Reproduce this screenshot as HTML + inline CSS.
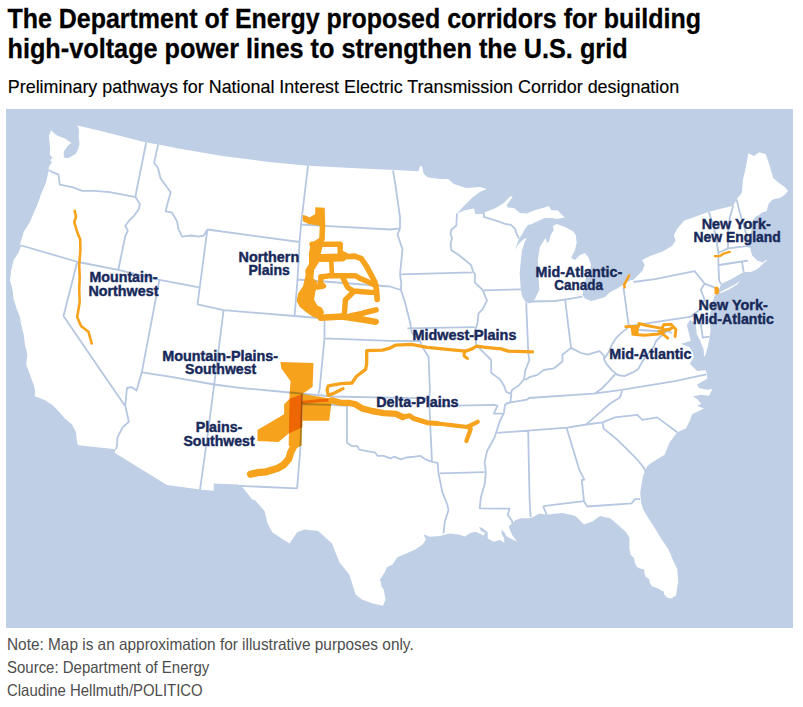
<!DOCTYPE html>
<html><head><meta charset="utf-8"><style>
html,body{margin:0;padding:0;background:#fff;width:803px;height:707px;overflow:hidden}
svg{display:block;font-family:"Liberation Sans",sans-serif}
</style></head><body>
<svg width="803" height="707" viewBox="0 0 803 707">
<rect width="803" height="707" fill="#fff"/>
<rect x="6" y="109" width="787" height="519" fill="#bfcfe5"/>
<clipPath id="mc"><rect x="6" y="109" width="787" height="519"/></clipPath>
<g clip-path="url(#mc)">
<path d="M51.0,130.3 L56.1,135.0 L65.5,138.8 L71.4,143.0 L68.0,145.6 L63.8,151.5 L63.8,157.4 L68.0,158.3 L75.7,154.0 L78.2,149.0 L79.5,143.9 L78.6,137.0 L79.0,129.4 L77.3,125.6 L100.0,130.7 L146.2,142.5 L158.0,144.6 L177.2,148.3 L220.8,155.7 L264.4,161.4 L308.0,165.8 L351.6,168.0 L395.2,170.1 L418.6,171.3 L419.9,166.0 L422.0,166.5 L423.6,173.5 L427.4,177.2 L440.0,179.0 L448.0,179.0 L454.0,184.0 L466.0,188.0 L480.0,187.0 L486.8,189.0 L479.8,192.0 L471.9,197.9 L463.9,205.9 L457.0,213.5 L464.0,210.6 L474.0,208.5 L475.4,214.1 L482.4,214.1 L483.8,212.8 L495.8,207.9 L503.8,202.9 L510.7,195.9 L512.7,196.9 L506.7,204.9 L508.0,207.5 L514.0,208.0 L520.0,213.0 L527.0,213.4 L535.0,210.0 L543.0,208.0 L549.0,206.0 L551.0,210.0 L558.0,210.4 L561.0,214.0 L564.8,217.4 L556.8,218.9 L551.8,217.9 L544.8,217.9 L535.9,221.9 L531.9,223.9 L527.9,224.9 L524.9,228.9 L521.9,234.8 L519.0,238.8 L515.0,249.8 L518.0,244.8 L522.9,239.8 L526.9,237.8 L524.9,241.8 L521.9,250.8 L520.9,259.7 L519.7,273.6 L520.8,289.5 L522.0,296.0 L525.7,302.3 L529.5,303.5 L534.5,299.8 L539.4,289.8 L538.2,272.4 L537.9,259.7 L539.9,246.8 L545.8,237.8 L546.8,242.8 L548.8,241.8 L550.8,234.8 L553.8,229.9 L552.8,225.9 L556.8,223.9 L564.8,226.9 L572.7,230.9 L575.7,234.8 L576.7,242.8 L574.7,250.8 L572.4,254.9 L571.2,258.0 L574.9,259.9 L579.9,254.9 L584.9,253.0 L588.6,257.4 L591.1,264.9 L589.9,271.1 L586.1,277.3 L584.9,282.3 L583.6,288.5 L582.4,294.8 L584.9,298.5 L591.1,301.0 L596.1,299.7 L604.8,297.2 L609.8,292.3 L617.3,288.5 L622.9,284.8 L629.7,280.4 L633.5,279.8 L642.2,271.1 L644.7,264.9 L642.2,259.9 L649.6,256.2 L655.0,254.3 L663.5,251.0 L672.2,245.8 L675.7,240.6 L673.9,235.3 L677.4,228.4 L684.4,220.5 L696.6,216.2 L708.8,211.8 L733.2,205.7 L736.7,199.6 L737.3,198.3 L741.9,192.8 L742.9,179.9 L744.7,172.6 L748.4,153.3 L753.9,156.0 L759.4,152.3 L765.8,154.2 L769.5,165.2 L773.2,178.1 L779.6,183.6 L785.1,187.2 L787.9,190.9 L785.1,194.6 L779.6,198.3 L776.0,198.5 L772.2,200.1 L768.6,203.8 L766.7,211.1 L762.0,212.5 L759.4,214.8 L755.7,216.6 L752.0,222.1 L751.1,231.3 L750.2,240.5 L749.3,245.1 L750.2,247.9 L752.0,255.2 L757.6,260.7 L763.1,262.6 L765.8,259.8 L766.8,260.5 L759.4,267.2 L755.7,270.0 L750.6,271.9 L743.7,271.9 L731.5,278.9 L721.0,284.1 L719.2,289.4 L717.0,291.0 L714.2,297.0 L711.5,305.0 L710.0,314.0 L708.5,320.0 L705.0,318.5 L709.6,322.9 L710.6,329.8 L709.6,337.7 L707.6,347.6 L705.6,354.5 L704.0,357.0 L703.7,349.6 L701.7,344.7 L699.7,339.7 L696.7,333.8 L695.7,322.9 L690.0,320.0 L686.8,324.9 L688.8,332.8 L690.8,340.7 L684.9,342.7 L680.9,343.7 L689.8,347.6 L692.8,352.6 L693.8,357.5 L689.8,363.5 L692.0,366.0 L697.1,371.0 L705.6,370.2 L706.8,373.6 L707.3,378.7 L697.1,384.6 L698.8,388.0 L707.3,389.7 L712.4,388.9 L709.0,395.7 L700.5,394.8 L692.8,396.5 L697.1,399.0 L701.3,404.1 L697.1,405.8 L703.9,408.4 L692.0,414.3 L690.3,419.4 L685.9,428.6 L677.2,432.3 L669.7,442.3 L664.7,454.7 L652.3,462.2 L647.3,465.9 L643.5,474.6 L642.3,480.0 L640.2,492.7 L641.2,503.3 L643.4,509.7 L647.6,517.1 L654.0,526.7 L660.3,537.3 L668.8,550.0 L673.1,560.6 L677.3,569.1 L678.2,581.9 L676.8,589.7 L676.1,595.4 L671.1,598.5 L666.9,597.5 L664.0,594.0 L664.0,591.8 L661.2,590.4 L657.7,588.3 L652.0,586.2 L649.9,583.3 L649.2,579.1 L645.7,577.0 L644.2,572.0 L644.2,569.2 L640.0,568.5 L637.0,567.0 L635.1,563.5 L634.0,557.9 L630.5,554.5 L629.4,548.8 L629.4,537.5 L626.0,531.9 L617.0,524.0 L610.2,518.3 L600.0,516.0 L592.4,521.4 L584.0,524.6 L575.5,516.1 L562.7,512.9 L556.8,513.6 L546.8,514.8 L539.4,513.6 L531.3,517.9 L526.0,518.3 L520.8,518.3 L515.6,520.1 L512.1,523.5 L508.6,526.2 L509.5,528.8 L512.1,534.9 L517.3,541.8 L512.1,539.2 L506.8,536.6 L504.2,532.3 L501.6,529.6 L501.6,534.0 L504.2,538.4 L504.2,542.7 L499.9,540.1 L493.8,541.8 L487.7,538.4 L487.7,532.3 L482.4,527.9 L479.0,527.0 L481.0,531.0 L485.0,533.1 L483.3,535.7 L480.7,534.0 L475.5,531.8 L470.2,533.1 L465.0,536.6 L459.7,534.8 L449.7,533.5 L439.7,536.0 L429.8,536.8 L423.5,534.3 L426.0,539.7 L422.3,544.7 L414.8,549.7 L406.1,553.4 L397.4,557.2 L392.4,564.6 L386.8,567.2 L385.0,572.1 L380.0,579.6 L381.8,587.1 L383.7,589.6 L385.5,599.6 L383.0,605.8 L371.8,603.3 L361.9,599.6 L355.6,594.6 L349.4,574.7 L339.4,562.2 L332.0,543.5 L318.3,531.1 L304.6,529.4 L297.1,532.3 L289.6,543.5 L279.7,537.3 L272.2,532.3 L267.2,522.4 L264.7,511.2 L254.8,500.0 L252.3,499.6 L242.3,487.1 L238.6,484.6 L213.7,483.4 L213.7,490.8 L200.0,489.6 L166.9,485.1 L114.6,452.7 L115.8,449.2 L78.5,445.3 L77.2,443.5 L76.0,432.3 L72.2,424.8 L64.8,418.6 L59.8,412.4 L52.3,404.9 L44.8,400.0 L34.9,396.2 L34.9,389.4 L33.6,384.5 L29.9,374.5 L26.2,364.5 L27.4,354.6 L24.9,344.6 L23.7,334.6 L21.2,324.7 L19.9,317.2 L16.2,307.2 L13.7,299.8 L12.5,289.8 L10.0,279.9 L11.2,269.9 L13.7,259.9 L18.7,252.5 L21.2,245.5 L20.0,244.5 L23.7,232.0 L29.9,222.0 L37.4,204.6 L41.0,194.6 L46.0,182.2 L48.6,171.0 L52.7,171.0 L48.5,169.3 L49.3,166.0 L51.9,162.5 L50.2,160.0 L52.7,157.4 L49.8,155.0 L50.2,149.0 L48.9,136.2 Z" fill="#fff"/>
<path d="M719.5,292.5 L726.0,289.0 L734.0,285.0 L740.5,280.5 L737.0,284.5 L729.0,289.5 L721.0,293.0 Z" fill="#fff"/>
<path d="M49.8,171.0 L58.5,174.7 L59.8,184.7 L72.2,187.2 L82.2,190.9 L94.6,190.9 L109.6,192.2 L135.7,197.1 M146.2,142.5 L135.7,194.6 L135.7,197.1 M135.5,197.1 L139.9,204.1 L138.7,209.2 L134.2,215.6 L129.1,220.7 L125.3,225.8 L127.8,230.9 L125.3,236.0 L118.3,269.7 M21.2,245.5 L78.0,262.0 L118.3,269.9 L159.4,279.9 L199.3,287.3 M158.0,144.6 L154.2,162.9 L158.0,168.0 L160.5,178.2 L170.7,192.2 L168.2,201.1 L165.6,211.3 L172.0,212.6 L177.1,221.5 L178.4,229.1 L182.2,236.7 L191.1,235.5 L198.7,236.7 L203.8,235.5 L207.4,229.5 M207.4,229.5 L197.5,304.3 L223.6,310.2 L294.6,316.0 M207.4,229.5 L299.6,242.0 M308.0,165.8 L301.0,224.5 L299.6,242.0 L297.5,279.5 L294.6,316.0 M301.0,224.5 L324.5,225.8 L390.0,229.5 L400.0,228.3 M393.0,170.5 L395.0,182.2 L397.5,199.6 L400.0,217.0 L400.0,228.3 L397.5,234.5 L402.5,249.4 L400.0,274.4 M297.5,279.5 L383.0,286.0 L390.0,286.5 L396.0,288.5 L401.0,290.0 M400.0,274.4 L401.2,282.3 L401.0,290.0 L405.0,302.3 L410.0,322.2 L412.0,333.0 L419.9,341.0 L422.4,347.0 L428.6,357.0 L429.9,390.0 L429.2,398.4 L430.1,421.7 L432.0,461.9 M294.6,316.0 L324.5,318.5 L324.5,338.4 L319.5,390.0 L318.3,393.7 M324.5,338.4 L390.0,340.9 L419.9,341.0 M159.4,279.9 L199.3,287.3 M223.6,310.2 L214.2,384.5 L206.3,445.0 L200.0,489.6 M159.4,279.9 L141.8,372.3 M77.2,262.0 L63.5,316.0 L100.0,369.6 L125.3,406.2 M141.8,372.3 L136.6,390.6 L131.4,387.1 L127.0,388.0 L126.2,395.8 L125.3,406.2 L127.0,413.2 L128.8,421.9 L122.7,427.2 L117.4,437.6 L117.0,446.0 L115.8,449.2 M141.8,372.3 L169.7,376.6 L214.2,384.5 L240.0,387.9 L289.6,392.5 L302.1,393.7 L333.0,396.5 L375.9,397.4 L428.2,398.4 M302.1,393.7 L300.3,449.7 L297.1,488.3 L239.8,485.9 M302.1,404.0 L331.1,404.9 L347.0,405.8 L347.0,442.7 L352.2,446.2 L357.4,446.2 L359.2,449.7 L367.9,451.4 L374.9,452.3 L377.5,455.8 L383.6,455.8 L390.6,458.4 L394.0,456.7 L401.0,459.3 L406.2,457.5 L415.0,456.7 L420.2,455.8 L425.4,459.3 L432.4,461.9 L437.6,462.8 L438.5,473.2 L442.3,492.1 L447.3,504.5 L448.5,509.9 L444.7,522.3 L443.5,533.5 M439.8,473.4 L484.6,472.2 M457.0,213.5 L456.3,225.5 L451.3,229.7 L450.6,233.9 L452.0,238.2 L450.6,243.8 L451.3,250.2 L457.0,253.7 L462.6,258.0 L471.1,265.1 L473.2,272.1 L474.9,273.6 M400.0,274.4 L472.2,272.4 M474.9,273.6 L474.7,282.3 L482.7,290.0 L487.0,300.6 L482.7,309.1 L478.5,313.3 L477.4,323.9 L474.2,332.4 L476.4,345.2 L484.8,353.6 L491.2,360.0 L491.2,372.7 L499.7,379.1 L503.9,385.5 L506.1,391.8 L511.4,394.0 L510.3,402.4 L505.0,404.6 L503.9,413.0 L499.7,421.5 L497.0,430.0 L494.6,437.3 L487.1,451.0 L484.6,462.2 L485.9,472.2 L484.6,484.6 L480.9,497.0 L479.7,508.3 L509.5,508.7 L507.7,514.8 L512.1,520.9 L512.5,523.5 M407.4,328.4 L474.7,327.2 M482.7,290.3 L520.8,289.3 M483.8,212.8 L483.8,216.8 L499.8,221.8 L505.0,223.9 L511.0,224.9 L515.0,228.9 L517.0,234.8 L519.0,238.3 M526.2,302.7 L528.3,353.6 L529.4,360.0 L525.2,370.6 L524.1,379.1 L518.8,385.5 L512.4,389.7 L510.3,394.0 M529.5,301.5 L555.0,301.0 L565.0,299.7 L582.4,296.6 M565.0,298.7 L571.0,347.9 M525.1,380.0 L530.2,376.8 L537.0,375.1 L543.8,370.0 L554.0,368.3 L562.4,361.5 L562.4,354.7 L571.0,347.9 L581.1,353.0 L587.9,354.7 L595.0,352.3 L599.5,351.2 L604.0,355.7 L604.0,359.1 M628.9,325.2 L626.7,328.6 L621.0,333.1 L616.5,337.6 L612.0,344.4 L608.6,352.3 L604.0,359.1 L606.3,363.6 L612.0,370.4 L617.6,375.0 L624.4,376.1 L632.3,372.7 L638.0,369.3 L642.5,361.4 L648.2,353.5 L653.8,346.7 L656.1,341.0 L660.6,336.5 L667.0,331.0 L672.0,333.0 M628.9,325.2 L640.0,330.0 L655.0,331.0 L667.0,331.0 M615.4,373.8 L608.6,381.7 L601.8,388.5 L595.0,393.5 M431.1,406.2 L494.6,404.9 L497.4,405.8 L493.9,413.7 L502.7,413.7 M506.2,403.2 L527.1,399.7 L528.8,398.0 L593.3,393.6 L620.0,390.1 L675.0,381.2 L706.4,374.4 M622.4,390.0 L619.9,397.4 L609.9,403.7 L600.0,412.4 L590.0,421.1 L586.3,424.1 M497.4,432.9 L567.2,427.6 L586.3,424.5 L602.5,422.3 M602.5,422.3 L614.9,417.4 L637.3,414.9 L642.3,419.9 L657.2,417.4 L677.2,432.3 M602.5,422.3 L603.7,428.6 L617.4,439.8 L627.4,449.7 L637.3,459.7 L643.5,467.2 L646.0,472.2 M528.2,431.1 L529.5,497.0 L530.6,517.3 M566.8,428.6 L579.3,469.7 L584.3,479.6 L581.8,480.0 L584.0,501.2 L587.1,506.5 L631.7,503.3 L634.9,499.1 L640.2,499.1 M543.1,506.1 L584.0,501.2 M543.1,506.1 L546.8,515.0 M623.5,287.3 L627.2,315.0 L628.8,326.2 M633.5,282.0 L655.0,279.2 L694.6,271.1 L699.6,277.4 L704.6,283.6 M704.6,283.6 L700.8,289.8 L704.6,299.8 L699.6,309.7 L689.6,317.2 M628.8,326.2 L691.5,316.6 M692.3,315.7 L697.0,318.5 L700.7,322.9 L702.7,337.7 L709.6,336.7 M708.8,211.8 L713.1,224.9 L715.8,235.3 L717.5,247.5 L718.4,252.8 L718.4,265.0 L719.2,280.7 L721.0,284.1 M704.6,283.6 L719.2,289.4 M733.2,205.7 L729.7,217.9 L728.0,233.6 L728.0,248.4 M736.7,199.6 L739.3,210.9 L743.7,224.9 L747.1,237.1 L749.8,247.5 M718.4,252.8 L728.0,248.4 L748.9,245.8 M719.2,265.0 L741.9,261.5 L748.0,260.6 M741.9,261.5 L743.7,271.9" fill="none" stroke="#b5c7e1" stroke-width="1.8" stroke-linejoin="round"/>
<g><path d="M74.7,210.8 L76.0,217.0 L74.2,222.0 L77.2,232.0 L80.2,239.5 L80.4,250.0 L79.2,265.0 L79.7,277.0 L79.2,290.0 L79.7,302.0 L77.2,317.0 L81.0,326.0 L88.4,331.7 L91.7,343.4" fill="none" stroke="#f7a21c" stroke-width="2.6" stroke-linejoin="round" stroke-linecap="round"/></g>
<g><path d="M315.2,207.3 L324.7,207.8 L325.3,225.8 L324.7,240.4 L319.1,240.4 L319.7,225.8 L308.5,224.1 L302.8,221.3 L302.8,215.1 L306.2,215.7 L309.6,217.4 L315.2,214.0 Z" fill="#f7a21c"/><path d="M319.1,238.0 L324.7,238.0 L322.6,246.2 L320.1,256.4 L318.4,263.2 L314.1,270.0 L313.3,278.4 L317.5,281.8 L317.5,287.0 L315.2,292.0 L314.1,299.8 L317.4,305.4 L321.9,307.7 L324.1,312.2 L321.0,319.5 L312.9,316.7 L306.2,312.2 L299.5,306.6 L296.7,301.0 L298.0,293.7 L303.1,286.0 L305.6,275.0 L305.2,270.0 L309.0,264.0 L309.0,253.0 L310.7,243.6 Z" fill="#f7a21c"/><path d="M312.0,244.2 L340.2,244.2 L340.2,252.7 L345.5,255.0" fill="none" stroke="#f7a21c" stroke-width="5.4" stroke-linejoin="round" stroke-linecap="round"/><path d="M318.0,258.5 L330.0,258.7 L342.7,257.0 L354.6,256.1 L361.4,258.7 L366.5,266.3 L370.7,274.0 L375.0,282.4 L376.7,291.0 L377.1,299.4" fill="none" stroke="#f7a21c" stroke-width="5.6" stroke-linejoin="round" stroke-linecap="round"/><path d="M320.0,258.0 L342.0,257.5" fill="none" stroke="#f7a21c" stroke-width="8" stroke-linejoin="round" stroke-linecap="round"/><path d="M331.1,258.0 L332.0,275.0" fill="none" stroke="#f7a21c" stroke-width="4.6" stroke-linejoin="round" stroke-linecap="round"/><path d="M321.0,277.0 L330.0,275.7 L341.9,275.7 L355.5,275.7 L359.7,278.2 L365.7,280.7 L372.4,284.1 L376.0,285.5" fill="none" stroke="#f7a21c" stroke-width="5.4" stroke-linejoin="round" stroke-linecap="round"/><path d="M321.0,277.0 L320.5,283.5 L323.5,286.0 L317.5,287.0" fill="none" stroke="#f7a21c" stroke-width="5.4" stroke-linejoin="round" stroke-linecap="round"/><path d="M343.2,278.5 L347.7,287.5 L353.3,291.0 L369.0,292.2 L376.0,292.4" fill="none" stroke="#f7a21c" stroke-width="5.4" stroke-linejoin="round" stroke-linecap="round"/><path d="M353.3,292.0 L345.4,299.8 L344.3,315.5" fill="none" stroke="#f7a21c" stroke-width="5.4" stroke-linejoin="round" stroke-linecap="round"/><path d="M320.8,317.8 L342.1,316.5 L362.3,319.5 L375.7,321.8" fill="none" stroke="#f7a21c" stroke-width="6.4" stroke-linejoin="round" stroke-linecap="round"/><path d="M350.0,316.0 L362.0,313.5 L368.0,311.8 L376.0,309.9" fill="none" stroke="#f7a21c" stroke-width="5.6" stroke-linejoin="round" stroke-linecap="round"/></g>
<g style="mix-blend-mode:multiply"><path d="M280.4,362.0 L313.5,362.9 L312.6,386.8 L302.5,394.1 L301.6,445.6 L295.0,449.0 L288.7,445.6 L289.6,393.2 L290.6,381.3 L281.4,368.4 Z" fill="#f7a21c"/><path d="M295.0,444.0 L290.6,452.7 L288.8,458.8 L283.6,464.9 L277.5,468.4 L266.2,471.8 L257.4,472.7 L250.5,474.3" fill="none" stroke="#f7a21c" stroke-width="7.2" stroke-linejoin="round" stroke-linecap="round"/></g>
<g style="mix-blend-mode:multiply"><path d="M257.5,430.0 L284.1,414.3 L284.1,404.2 L289.6,398.7 L302.5,394.1 L302.5,427.2 L288.7,433.6 L278.6,441.9 L257.5,441.0 Z" fill="#f7a21c"/></g>
<g style="mix-blend-mode:multiply"><path d="M302.5,394.1 L331.9,398.7 L329.2,420.8 L302.5,420.8 Z" fill="#f7a21c"/></g>
<g style="mix-blend-mode:multiply"><path d="M303.4,402.2 L320.4,400.5 L330.5,400.2" fill="none" stroke="#f7a21c" stroke-width="3.0" stroke-linejoin="round" stroke-linecap="round"/></g>
<g><path d="M331.5,400.4 L340.0,402.6 L349.8,403.0 L355.7,404.4 L362.7,408.7 L372.0,411.0 L383.6,413.1 L395.8,413.9 L402.8,417.0" fill="none" stroke="#f7a21c" stroke-width="6.4" stroke-linejoin="round" stroke-linecap="round"/><path d="M402.8,417.0 L409.7,415.7 L413.2,418.3 L427.2,422.7 L437.6,423.5" fill="none" stroke="#f7a21c" stroke-width="5.0" stroke-linejoin="round" stroke-linecap="round"/><path d="M437.6,423.5 L453.3,425.3 L467.3,427.0 L477.7,421.8" fill="none" stroke="#f7a21c" stroke-width="4.2" stroke-linejoin="round" stroke-linecap="round"/><path d="M467.3,427.0 L470.8,428.8 L466.4,441.0" fill="none" stroke="#f7a21c" stroke-width="4.2" stroke-linejoin="round" stroke-linecap="round"/></g>
<g><path d="M343.0,388.6 L333.9,393.2 L328.3,395.4 L327.1,389.8 L328.3,385.8 L340.7,383.6 L352.0,383.0 L356.6,376.2 L365.6,369.4 L366.7,363.8 L366.7,350.7 L382.4,350.2 L389.1,348.4 L395.9,345.1 L411.6,344.4 L420.5,346.2 L427.2,347.3 L449.7,349.6 L465.4,351.1 L472.1,348.9 L476.6,346.2 L485.5,347.3 L501.2,348.9 L508.0,351.1 L532.6,351.8" fill="none" stroke="#f7a21c" stroke-width="3.3" stroke-linejoin="round" stroke-linecap="round"/><path d="M464.2,351.8 L464.2,356.3 L467.6,358.5" fill="none" stroke="#f7a21c" stroke-width="3.0" stroke-linejoin="round" stroke-linecap="round"/></g>
<g><path d="M629.1,275.5 L624.1,284.8 L624.7,287.3" fill="none" stroke="#f7a21c" stroke-width="2.6" stroke-linejoin="round" stroke-linecap="round"/></g>
<g><path d="M714.9,256.2 L720.1,255.9 L723.6,253.6 L729.7,251.9" fill="none" stroke="#f7a21c" stroke-width="2.4" stroke-linejoin="round" stroke-linecap="round"/></g>
<g><path d="M714.2,287.2 L717.8,286.4 L719.2,290.0 L718.8,293.4 L716.8,294.6 L714.3,293.4 L714.6,290.5 Z" fill="#f7a21c"/></g>
<g><path d="M625.7,326.7 L638.6,326.3 L639.0,323.5 L646.7,325.5 L654.8,327.1 L662.1,328.4 L663.7,324.7 L671.0,324.3 L675.9,329.6 L675.1,336.5" fill="none" stroke="#f7a21c" stroke-width="2.9" stroke-linejoin="round" stroke-linecap="round"/><path d="M632.1,327.1 L633.0,334.4 L644.3,335.2 L658.9,334.0 L665.3,330.4 L671.8,328.0" fill="none" stroke="#f7a21c" stroke-width="2.9" stroke-linejoin="round" stroke-linecap="round"/><path d="M658.9,331.2 L667.8,338.1" fill="none" stroke="#f7a21c" stroke-width="2.9" stroke-linejoin="round" stroke-linecap="round"/><path d="M662.0,329.6 L670.2,329.6" fill="none" stroke="#f7a21c" stroke-width="2.9" stroke-linejoin="round" stroke-linecap="round"/><path d="M631.0,326.0 L639.0,325.0 L638.5,334.5 L632.0,334.5 Z" fill="#f7a21c"/></g>
</g>
<text stroke="#17295a" stroke-width="0.45" x="89.5" y="282.0" textLength="67.9" lengthAdjust="spacingAndGlyphs" font-size="15.3" font-weight="bold" fill="#17295a">Mountain-</text>
<text stroke="#17295a" stroke-width="0.45" x="88.4" y="296.0" textLength="70.1" lengthAdjust="spacingAndGlyphs" font-size="15.3" font-weight="bold" fill="#17295a">Northwest</text>
<text stroke="#17295a" stroke-width="0.45" x="238.5" y="261.79999999999995" textLength="60.7" lengthAdjust="spacingAndGlyphs" font-size="15.3" font-weight="bold" fill="#17295a">Northern</text>
<text stroke="#17295a" stroke-width="0.45" x="248.4" y="275.29999999999995" textLength="41.4" lengthAdjust="spacingAndGlyphs" font-size="15.3" font-weight="bold" fill="#17295a">Plains</text>
<text stroke="#17295a" stroke-width="0.45" x="162.3" y="361.2" textLength="115.7" lengthAdjust="spacingAndGlyphs" font-size="15.3" font-weight="bold" fill="#17295a">Mountain-Plains-</text>
<text stroke="#17295a" stroke-width="0.45" x="185" y="374.2" textLength="71.2" lengthAdjust="spacingAndGlyphs" font-size="15.3" font-weight="bold" fill="#17295a">Southwest</text>
<text stroke="#17295a" stroke-width="0.45" x="195.7" y="432.0" textLength="46.6" lengthAdjust="spacingAndGlyphs" font-size="15.3" font-weight="bold" fill="#17295a">Plains-</text>
<text stroke="#17295a" stroke-width="0.45" x="183.4" y="446.0" textLength="71.2" lengthAdjust="spacingAndGlyphs" font-size="15.3" font-weight="bold" fill="#17295a">Southwest</text>
<text stroke="#17295a" stroke-width="0.45" x="412.5" y="339.79999999999995" textLength="103.9" lengthAdjust="spacingAndGlyphs" font-size="15.3" font-weight="bold" fill="#17295a">Midwest-Plains</text>
<text stroke="#17295a" stroke-width="0.45" x="376.2" y="406.59999999999997" textLength="82.2" lengthAdjust="spacingAndGlyphs" font-size="15.3" font-weight="bold" fill="#17295a">Delta-Plains</text>
<text stroke="#17295a" stroke-width="0.45" x="535.6" y="276.59999999999997" textLength="86.6" lengthAdjust="spacingAndGlyphs" font-size="15.3" font-weight="bold" fill="#17295a">Mid-Atlantic-</text>
<text stroke="#17295a" stroke-width="0.45" x="554.3" y="290.29999999999995" textLength="48.6" lengthAdjust="spacingAndGlyphs" font-size="15.3" font-weight="bold" fill="#17295a">Canada</text>
<text stroke="#17295a" stroke-width="0.45" x="701.7" y="228.6" textLength="69.1" lengthAdjust="spacingAndGlyphs" font-size="15.3" font-weight="bold" fill="#17295a">New York-</text>
<text stroke="#17295a" stroke-width="0.45" x="693.6" y="241.70000000000002" textLength="87.2" lengthAdjust="spacingAndGlyphs" font-size="15.3" font-weight="bold" fill="#17295a">New England</text>
<text stroke="#17295a" stroke-width="0.45" x="698.6" y="310.0" textLength="69.1" lengthAdjust="spacingAndGlyphs" font-size="15.3" font-weight="bold" fill="#17295a">New York-</text>
<text stroke="#17295a" stroke-width="0.45" x="693" y="323.7" textLength="80.9" lengthAdjust="spacingAndGlyphs" font-size="15.3" font-weight="bold" fill="#17295a">Mid-Atlantic</text>
<text stroke="#17295a" stroke-width="0.45" x="609.3" y="358.59999999999997" textLength="82.2" lengthAdjust="spacingAndGlyphs" font-size="15.3" font-weight="bold" fill="#17295a">Mid-Atlantic</text>
<text stroke="#000" stroke-width="0.3" x="7.5" y="27.5" textLength="693.4" lengthAdjust="spacingAndGlyphs" font-size="27.8" font-weight="bold" fill="#000">The Department of Energy proposed corridors for building</text>
<text stroke="#000" stroke-width="0.3" x="7.5" y="58.4" textLength="620.1" lengthAdjust="spacingAndGlyphs" font-size="27.8" font-weight="bold" fill="#000">high-voltage power lines to strengthen the U.S. grid</text>
<text stroke="#000" stroke-width="0.15" x="7.8" y="92.7" textLength="671.4" lengthAdjust="spacingAndGlyphs" font-size="18.5" font-weight="normal" fill="#000">Preliminary pathways for National Interest Electric Transmission Corridor designation</text>
<text x="7" y="649.9" textLength="406.7" lengthAdjust="spacingAndGlyphs" font-size="16.5" font-weight="normal" fill="#4d4d4d">Note: Map is an approximation for illustrative purposes only.</text>
<text x="7" y="673.3" textLength="202.3" lengthAdjust="spacingAndGlyphs" font-size="16.5" font-weight="normal" fill="#4d4d4d">Source: Department of Energy</text>
<text x="7" y="696.2" textLength="195.7" lengthAdjust="spacingAndGlyphs" font-size="16.5" font-weight="normal" fill="#4d4d4d">Claudine Hellmuth/POLITICO</text>
</svg>
</body></html>
